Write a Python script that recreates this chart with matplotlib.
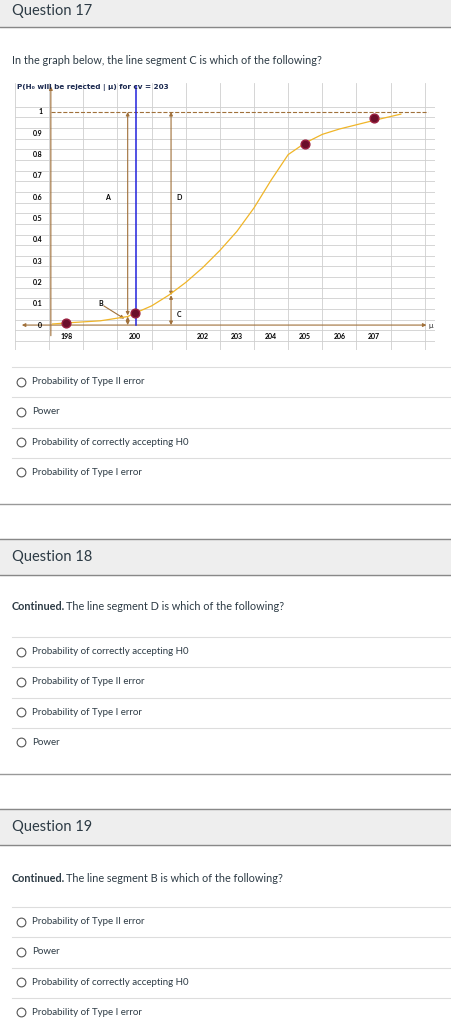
import matplotlib
matplotlib.use("Agg")
import matplotlib.pyplot as plt
from matplotlib.patches import Rectangle, FancyArrowPatch

plt.rcParams['font.family'] = ['Lato', 'DejaVu Sans']

# data
mu_curve = [197.6, 198, 199, 199.8, 200, 200.5, 201, 201.5, 202, 202.5, 203, 203.5, 204, 204.5, 205, 205.5, 206, 206.5, 207, 207.8]
p_curve = [0.005, 0.01, 0.02, 0.04, 0.055, 0.09, 0.14, 0.2, 0.27, 0.35, 0.44, 0.55, 0.68, 0.8, 0.855, 0.895, 0.92, 0.94, 0.96, 0.99]
mu_dots = [198, 200, 205, 207]
p_dots = [0.01, 0.055, 0.85, 0.97]
x_ticks = [198, 200, 202, 203, 204, 205, 206, 207]
y_ticks = [0, 0.1, 0.2, 0.3, 0.4, 0.5, 0.6, 0.7, 0.8, 0.9, 1]
questions = ["Question 17", "Question 18", "Question 19"]
prompts = [("", "In the graph below, the line segment C is which of the following?"),
           ("Continued.", "The line segment D is which of the following?"),
           ("Continued.", "The line segment B is which of the following?")]
options = [["Probability of Type II error", "Power", "Probability of correctly accepting H0", "Probability of Type I error"],
           ["Probability of correctly accepting H0", "Probability of Type II error", "Probability of Type I error", "Power"],
           ["Probability of Type II error", "Power", "Probability of correctly accepting H0", "Probability of Type I error"]]

fig = plt.figure(figsize=(4.52, 10.24), dpi=100)
bg = fig.add_axes([0, 0, 1, 1])
bg.set_xlim(0, 452); bg.set_ylim(1024, 0); bg.axis('off')

header_y = [0, 539, 809]
prompt_y = [61, 607, 878]
sep_start = [367, 637, 907]
txt = '#2d3b45'
for qi in range(3):
    hy = header_y[qi]
    hh = 36 if qi else 27
    bg.add_patch(Rectangle((0, hy), 452, hh, color='#eeeeee', zorder=0))
    if qi:
        bg.plot([0, 452], [hy, hy], color='#888888', lw=1)
    bg.plot([0, 452], [hy + hh] * 2, color='#888888', lw=1)
    bg.text(12, hy + (18 if qi else 11), questions[qi], fontsize=10.5, color=txt, va='center')
    b, rest = prompts[qi]
    if b:
        bg.text(12, prompt_y[qi], b, fontsize=7.8, fontweight='bold', color=txt, va='center')
        bg.text(66, prompt_y[qi], rest, fontsize=7.8, color=txt, va='center')
    else:
        bg.text(12, prompt_y[qi], rest, fontsize=7.8, color=txt, va='center')
    for oi in range(4):
        sy = sep_start[qi] + oi * 30.3
        bg.plot([12, 452], [sy, sy], color='#dddddd', lw=0.8)
        bg.scatter([21], [sy + 14.5], s=40, facecolor='white', edgecolor='#555555', lw=0.8)
        bg.text(32, sy + 14.5, options[qi][oi], fontsize=7, color=txt, va='center')
    if qi < 2:
        by = [504, 774][qi]
        bg.plot([0, 452], [by, by], color='#999999', lw=1)

# chart
ax = fig.add_axes([15/452, 1-350/1024, 420/452, 267/1024])
ax.set_xlim(196.5, 208.8); ax.set_ylim(-0.117, 1.136); ax.axis('off')
brown = '#a0703a'
for gx in [196.5 + i for i in range(13)]:
    ax.axvline(gx, color='#cfcfcf', lw=0.6, zorder=0)
for k in range(23):
    ax.axhline(-0.075 + 0.05 * k, color='#cfcfcf', lw=0.6, zorder=0)

def arr(x0, y0, x1, y1, style='<|-|>', color=brown, lw=0.8):
    ax.add_patch(FancyArrowPatch((x0, y0), (x1, y1), arrowstyle=style, mutation_scale=5, color=color, lw=lw, shrinkA=0, shrinkB=0))

arr(197.55, -0.05, 197.55, 1.12, style='-|>')
arr(196.7, 0, 208.55, 0)
ax.text(208.62, 0, 'μ', fontsize=5.5, va='center', color='#333333')
ax.plot([197.55, 208.6], [1, 1], ls='--', color=brown, lw=0.8)
ax.plot([200.03, 200.03], [0, 1.12], color='#2222dd', lw=1.1)
arr(199.8, 0.045, 199.8, 1)
arr(199.8, 0, 199.8, 0.04)
arr(201.07, 0.14, 201.07, 1)
arr(201.07, 0, 201.07, 0.14)
arr(199.1, 0.09, 199.7, 0.03, style='-|>')
for s, (x, y) in {'A': (199.2, 0.6), 'D': (201.3, 0.6), 'C': (201.3, 0.05), 'B': (199.0, 0.1)}.items():
    ax.text(x, y, s, fontsize=5, fontweight='bold', ha='center', va='center')
ax.plot(mu_curve, p_curve, color='#f0b528', lw=0.9, zorder=3)
ax.scatter(mu_dots, p_dots, s=40, color='#6b0f2a', edgecolor='#9a2040', zorder=4)
for xt in x_ticks:
    ax.text(xt, -0.055, str(xt), fontsize=5, fontweight='bold', ha='center', va='center')
for yt in y_ticks:
    ax.text(197.3, yt, f'{yt:g}', fontsize=5, fontweight='bold', ha='right', va='center')
ax.text(196.55, 1.115, 'P(H₀ will be rejected | μ) for cv = 203', fontsize=5.2, fontweight='bold',
        color='#1c2a50', va='center', family=['DejaVu Sans'])

fig.savefig('out.png', dpi=100)
